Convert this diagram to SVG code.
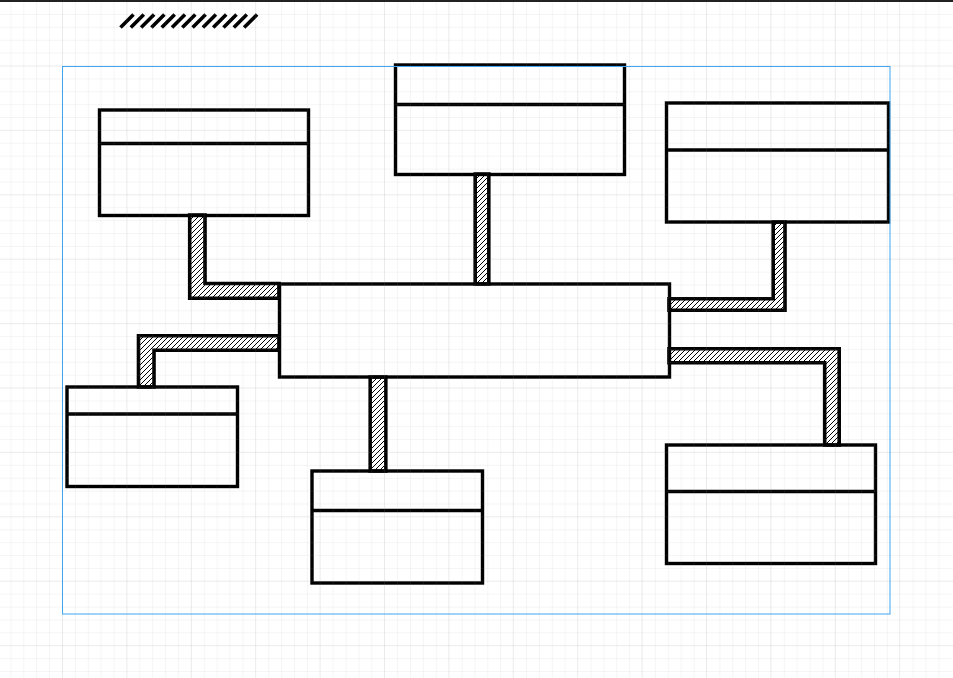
<svg xmlns="http://www.w3.org/2000/svg" width="953" height="678" viewBox="0 0 953 678">
  <style>
    .box{fill:none;stroke:#000;stroke-width:3.4}
    .band{fill:url(#hatch);stroke:#000;stroke-width:3.6;stroke-linejoin:miter}
    .minor{stroke:#a0a0a0;stroke-opacity:.1;stroke-width:1;fill:none}
    .major{stroke:#828282;stroke-opacity:.16;stroke-width:1;fill:none}
  </style>
  <defs>
    <pattern id="hatch" patternUnits="userSpaceOnUse" width="5" height="5">
      <rect width="5" height="5" fill="#fff"/>
      <path d="M-1 1L1 -1M0 5L5 0M4 6L6 4" stroke="#000" stroke-width="1" fill="none"/>
    </pattern>
  </defs>
  <rect width="953" height="678" fill="#fff"/>
  <g id="legend" stroke="#000" stroke-width="3.6" fill="none">
    <path d="M120.5 27.5L133.5 14.5M130.8 27.5L143.8 14.5M141.1 27.5L154.1 14.5M151.4 27.5L164.4 14.5M161.7 27.5L174.7 14.5M172 27.5L185 14.5M182.3 27.5L195.3 14.5M192.6 27.5L205.6 14.5M202.9 27.5L215.9 14.5M213.2 27.5L226.2 14.5M223.5 27.5L236.5 14.5M233.8 27.5L246.8 14.5M244.1 27.5L257.1 14.5"/>
  </g>
  <g id="connectors">
    <path class="band" d="M189.7 215V298.2H279V283.5H205V215Z"/>
    <path class="band" d="M475.2 174V284H488.8V174Z"/>
    <path class="band" d="M773.2 222V298.7H669V310.3H785V222Z"/>
    <path class="band" d="M279 335.7H138.5V387H154V350.3H279Z"/>
    <path class="band" d="M370.2 377V471H385.8V377Z"/>
    <path class="band" d="M669 348.7H839.2V445H824.7V362.7H669Z"/>
  </g>
  <g id="node-a"><rect class="box" x="99.5" y="110" width="209" height="105.5"/><path class="box" d="M99.5 143.5H308.5"/></g>
  <g id="node-b"><rect class="box" x="395.5" y="65" width="229" height="109.5"/><path class="box" d="M395.5 104.5H624.5"/></g>
  <g id="node-c"><rect class="box" x="666.5" y="103" width="222" height="119"/><path class="box" d="M666.5 150H888.5"/></g>
  <g id="node-center"><rect class="box" x="279.5" y="284" width="390" height="93"/></g>
  <g id="node-d"><rect class="box" x="67" y="387" width="170.5" height="99.5"/><path class="box" d="M67 414H237.5"/></g>
  <g id="node-e"><rect class="box" x="312" y="471" width="170.5" height="112"/><path class="box" d="M312 510.5H482.5"/></g>
  <g id="node-f"><rect class="box" x="666.5" y="445" width="209" height="118.5"/><path class="box" d="M666.5 491.5H875.5"/></g>
  <g id="grid">
    <path class="minor" d="M10.9 0V678M23.8 0V678M36.6 0V678M49.5 0V678M75.4 0V678M88.3 0V678M101.1 0V678M114 0V678M139.8 0V678M152.7 0V678M165.6 0V678M178.4 0V678M204.3 0V678M217.2 0V678M230 0V678M242.9 0V678M268.8 0V678M281.6 0V678M294.5 0V678M307.4 0V678M333.2 0V678M346.1 0V678M359 0V678M371.8 0V678M397.6 0V678M410.5 0V678M423.4 0V678M436.3 0V678M462.1 0V678M475 0V678M487.8 0V678M500.7 0V678M526.5 0V678M539.4 0V678M552.3 0V678M565.2 0V678M591 0V678M603.9 0V678M616.8 0V678M629.6 0V678M655.4 0V678M668.3 0V678M681.2 0V678M694.1 0V678M719.9 0V678M732.8 0V678M745.6 0V678M758.5 0V678M784.3 0V678M797.2 0V678M810 0V678M822.9 0V678M848.7 0V678M861.6 0V678M874.5 0V678M887.4 0V678M913.2 0V678M926 0V678M938.9 0V678
      M0 14.5H953M0 27.4H953M0 40.3H953M0 53.1H953M0 78.9H953M0 91.8H953M0 104.7H953M0 117.5H953M0 143.3H953M0 156.2H953M0 169.1H953M0 182H953M0 207.7H953M0 220.6H953M0 233.5H953M0 246.4H953M0 272.2H953M0 285H953M0 297.9H953M0 310.8H953M0 336.6H953M0 349.4H953M0 362.3H953M0 375.2H953M0 401H953M0 413.8H953M0 426.7H953M0 439.6H953M0 465.4H953M0 478.3H953M0 491.1H953M0 504H953M0 529.8H953M0 542.7H953M0 555.5H953M0 568.4H953M0 594.2H953M0 607.1H953M0 619.9H953M0 632.8H953M0 658.6H953M0 671.5H953"/>
    <path class="major" d="M62.5 0V678M126.9 0V678M191.3 0V678M255.7 0V678M320.1 0V678M384.5 0V678M448.9 0V678M513.3 0V678M577.7 0V678M642.1 0V678M706.5 0V678M770.9 0V678M835.3 0V678M899.7 0V678
      M0 66H953M0 130.4H953M0 194.8H953M0 259.2H953M0 323.6H953M0 388H953M0 452.4H953M0 516.8H953M0 581.2H953M0 645.6H953"/>
  </g>
  <rect x="0" y="0" width="953" height="2" fill="#222"/>
  <rect id="frame" x="62.5" y="66.5" width="827.5" height="547.5" fill="none" stroke="#3fa5f0" stroke-width="1"/>
</svg>
